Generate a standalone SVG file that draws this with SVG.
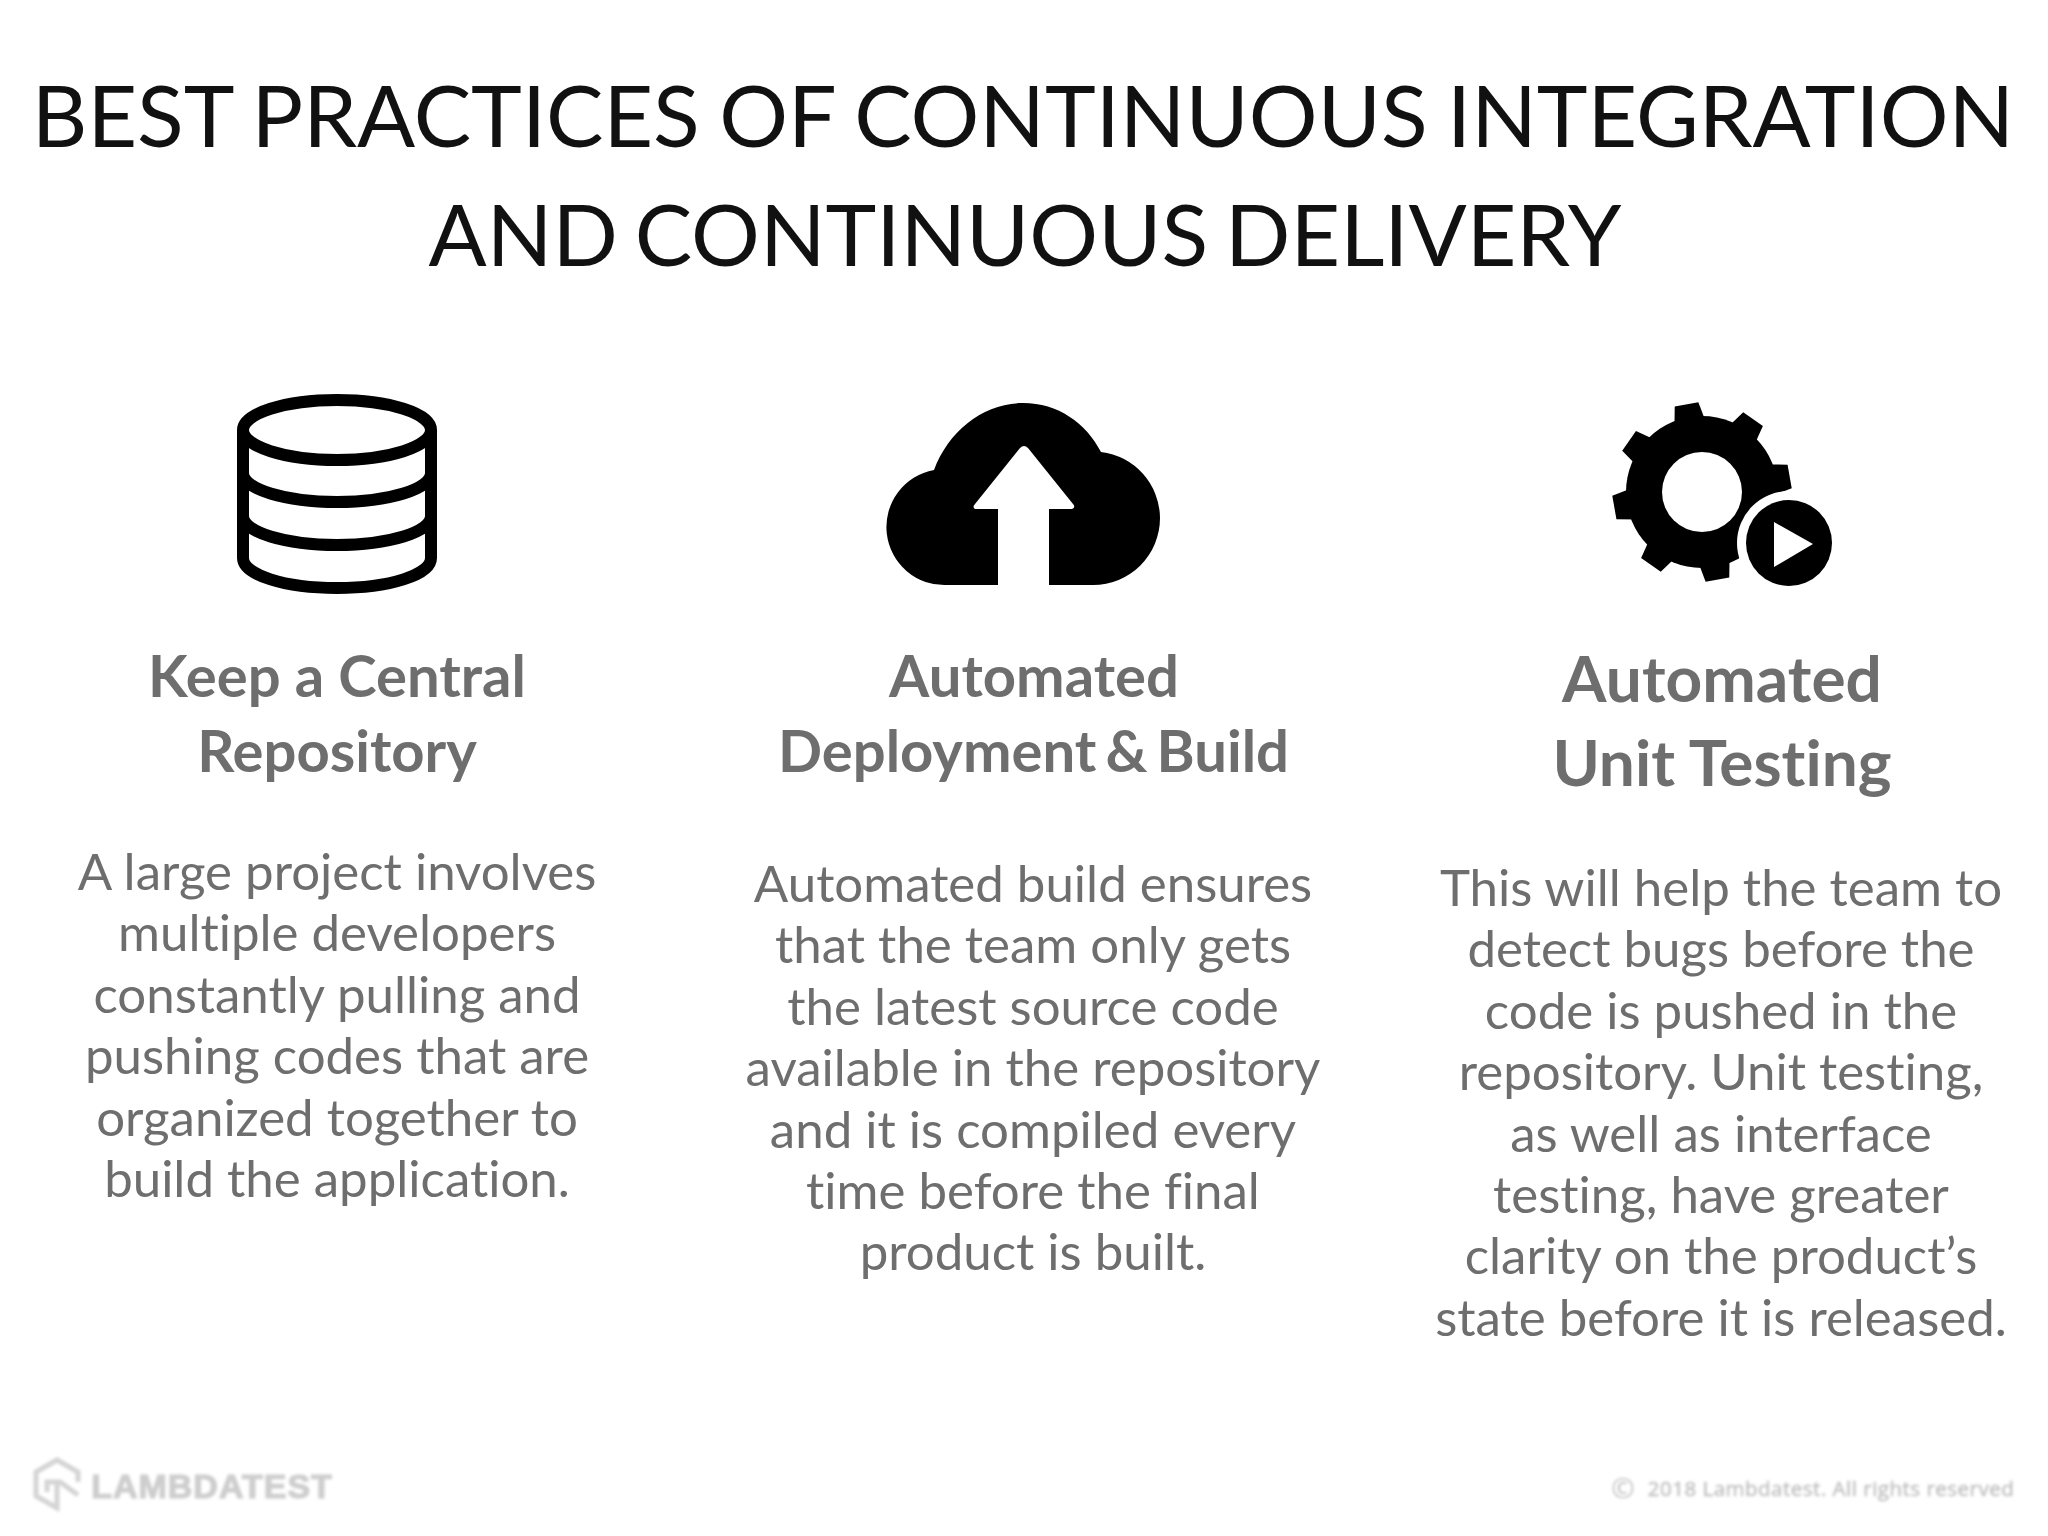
<svg xmlns="http://www.w3.org/2000/svg" width="2048" height="1536" viewBox="0 0 2048 1536">
<style>
text{font-family:Lato,"Liberation Sans",sans-serif;text-anchor:middle;font-variant-ligatures:none}
.t{font-size:86px;fill:#111}
.h{font-size:58px;font-weight:700;fill:#6e6e6e}
.h3{font-size:64px;font-weight:700;fill:#6e6e6e}
.b{font-size:51px;fill:#6e6e6e}
.i{fill:none;stroke:#000;stroke-width:12}
</style>
<defs><filter id="blur" x="-5%" y="-30%" width="110%" height="160%"><feGaussianBlur stdDeviation="1.5"/></filter>
<polygon id="tooth" points="-16,-68 -12,-89 12,-89 16,-68" fill="#000"/></defs>
<rect width="2048" height="1536" fill="#fff"/>
<g id="title">
<text class="t" x="1023" y="147" style="word-spacing:-2.5px">BEST PRACTICES OF CONTINUOUS INTEGRATION</text>
<text class="t" x="1025" y="266" style="word-spacing:-5px">AND CONTINUOUS DELIVERY</text>
</g>
<g id="repository">
<g id="repository-icon">
<ellipse class="i" cx="337" cy="430" rx="94" ry="30"/>
<path class="i" d="M243 430V558C243 575 285 588 337 588S431 575 431 558V430"/>
<path class="i" d="M243 473C243 489 285 502 337 502S431 489 431 473M243 516C243 532 285 545 337 545S431 532 431 516"/>
</g>
<text class="h" x="337" y="697">Keep a Central</text>
<text class="h" x="337" y="772">Repository</text>
<text class="b" x="337" y="890">A large project involves</text>
<text class="b" x="337" y="951">multiple developers</text>
<text class="b" x="337" y="1013">constantly pulling and</text>
<text class="b" x="337" y="1074">pushing codes that are</text>
<text class="b" x="337" y="1136">organized together to</text>
<text class="b" x="337" y="1197">build the application.</text>
</g>
<g id="deployment">
<path id="deployment-icon" fill="#000" d="M998 585H947A58 58 0 0 1 934 470C949 430 984 403 1023 403C1058 403 1086 423 1101 452A67 67 0 0 1 1160 518A67 67 0 0 1 1093 585H1049V509H1072Q1076 507 1073 504L1028 448Q1024 444 1020 448L975 504Q972 507 975 509H998Z"/>
<text class="h" x="1034" y="697">Automated</text>
<text class="h" x="1033.500" y="772" style="word-spacing:-5px">Deployment &amp; Build</text>
<text class="b" x="1033" y="902">Automated build ensures</text>
<text class="b" x="1033" y="963">that the team only gets</text>
<text class="b" x="1033" y="1025">the latest source code</text>
<text class="b" x="1033" y="1086">available in the repository</text>
<text class="b" x="1033" y="1148">and it is compiled every</text>
<text class="b" x="1033" y="1209">time before the final</text>
<text class="b" x="1033" y="1270">product is built.</text>
</g>
<g id="testing">
<g id="testing-icon">
<circle cx="1702" cy="492" r="76" fill="#000"/>
<use href="#tooth" transform="translate(1702 492) rotate(-10)"/>
<use href="#tooth" transform="translate(1702 492) rotate(35)"/>
<use href="#tooth" transform="translate(1702 492) rotate(80)"/>
<use href="#tooth" transform="translate(1702 492) rotate(125)"/>
<use href="#tooth" transform="translate(1702 492) rotate(170)"/>
<use href="#tooth" transform="translate(1702 492) rotate(215)"/>
<use href="#tooth" transform="translate(1702 492) rotate(260)"/>
<use href="#tooth" transform="translate(1702 492) rotate(305)"/>
<circle cx="1702" cy="492" r="40" fill="#fff"/>
<circle cx="1789" cy="543" r="52" fill="#fff"/>
<circle cx="1789" cy="543" r="43" fill="#000"/>
<polygon points="1774,522 1774,567 1813,544" fill="#fff"/>
</g>
<text class="h3" x="1722" y="702">Automated</text>
<text class="h3" x="1722" y="786">Unit Testing</text>
<text class="b" x="1721" y="906">This will help the team to</text>
<text class="b" x="1721" y="967">detect bugs before the</text>
<text class="b" x="1721" y="1029">code is pushed in the</text>
<text class="b" x="1721" y="1090">repository. Unit testing,</text>
<text class="b" x="1721" y="1152">as well as interface</text>
<text class="b" x="1721" y="1213">testing, have greater</text>
<text class="b" x="1721" y="1274">clarity on the product’s</text>
<text class="b" x="1721" y="1336">state before it is released.</text>
</g>
<g id="logo" filter="url(#blur)">
<path fill="none" stroke="#d4d4d4" stroke-width="5" d="M78 1482V1472L57 1460L36 1472V1496L57 1508V1482M47 1492V1482H60L78 1495"/>
<text x="212" y="1498" style="font-family:'Liberation Sans',sans-serif;font-size:34px;font-weight:700;fill:#cdcdcd;stroke:#cdcdcd;stroke-width:1.2;letter-spacing:1px">LAMBDATEST</text>
</g>
<g id="copyright" filter="url(#blur)">
<text x="1623" y="1498" style="font-family:'Open Sans',sans-serif;font-size:28px;fill:#bdbdbd">©</text>
<text x="1831" y="1496" style="font-family:'Open Sans',sans-serif;font-size:20.5px;fill:#bdbdbd;stroke:#bdbdbd;stroke-width:.4;letter-spacing:.5px">2018 Lambdatest. All rights reserved</text>
</g>
</svg>
